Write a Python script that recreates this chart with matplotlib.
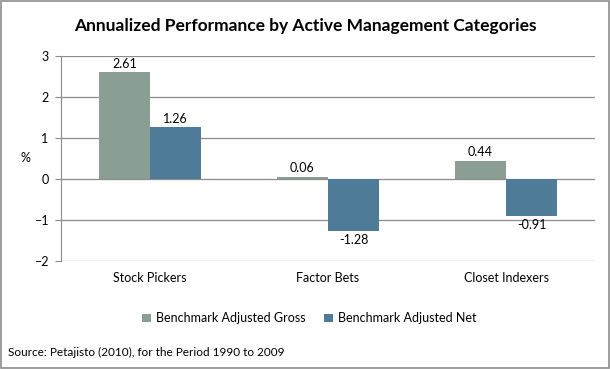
import numpy as np
import matplotlib.pyplot as plt
from matplotlib.patches import Rectangle

categories = ['Stock Pickers', 'Factor Bets', 'Closet Indexers']
gross = [2.61, 0.06, 0.44]
net = [1.26, -1.28, -0.91]
series_names = ['Benchmark Adjusted Gross', 'Benchmark Adjusted Net']

c_gross = '#8A9E94'
c_net = '#4E7B98'
grid_c = '#8C8C8C'
font = 'Lato'

fig = plt.figure(figsize=(6.1, 3.69), dpi=100)
fig.patches.append(Rectangle((0.001, 0.002), 0.997, 0.995, transform=fig.transFigure,
                             fill=False, edgecolor='#8C8C8C', linewidth=1.2))
ax = fig.add_axes([61 / 610, 0.293, 534 / 610, 0.555])

x = np.arange(len(categories))
w = 0.287
b1 = ax.bar(x - w / 2, gross, w, color=c_gross, label=series_names[0], zorder=3)
b2 = ax.bar(x + w / 2, net, w, color=c_net, label=series_names[1], zorder=3)

for bars, vals in ((b1, gross), (b2, net)):
    for bar, v in zip(bars, vals):
        cx = bar.get_x() + bar.get_width() / 2
        if v >= 0:
            ax.text(cx, v + 0.06, f'{v:.2f}', ha='center', va='bottom', fontsize=9, family=font)
        else:
            ax.text(cx, v - 0.06, f'{v:.2f}', ha='center', va='top', fontsize=9, family=font)

ax.set_ylim(-2, 3)
ax.set_xlim(-0.5, 2.5)
ax.set_yticks(range(-2, 4))
ax.yaxis.grid(True, color=grid_c, linewidth=0.9, zorder=0)
ax.set_axisbelow(True)
for s in ('top', 'right', 'bottom'):
    ax.spines[s].set_visible(False)
ax.spines['left'].set_color(grid_c)
ax.tick_params(axis='y', color=grid_c, length=4, labelsize=9, pad=5)
ax.tick_params(axis='x', length=0, labelsize=9, pad=8)
ax.set_xticks(x)
ax.set_xticklabels(categories, family=font)
for lab in ax.get_yticklabels():
    lab.set_family(font)

ax.set_ylabel('%', rotation=0, fontsize=9, family=font, labelpad=6, va='center')

fig.text(0.5, 0.93, 'Annualized Performance by Active Management Categories',
         ha='center', va='center', fontsize=12.5, fontweight='bold', family=font)

fig.legend(handles=[b1, b2], loc='center', bbox_to_anchor=(0.507, 0.137), ncol=2,
           frameon=False, prop={'family': font, 'size': 9}, handlelength=0.7,
           handleheight=0.7, handletextpad=0.4, columnspacing=1.5)

fig.text(0.013, 0.045, 'Source: Petajisto (2010), for the Period 1990 to 2009',
         ha='left', va='center', fontsize=8.5, family=font)

fig.savefig('out.png', dpi=100)
